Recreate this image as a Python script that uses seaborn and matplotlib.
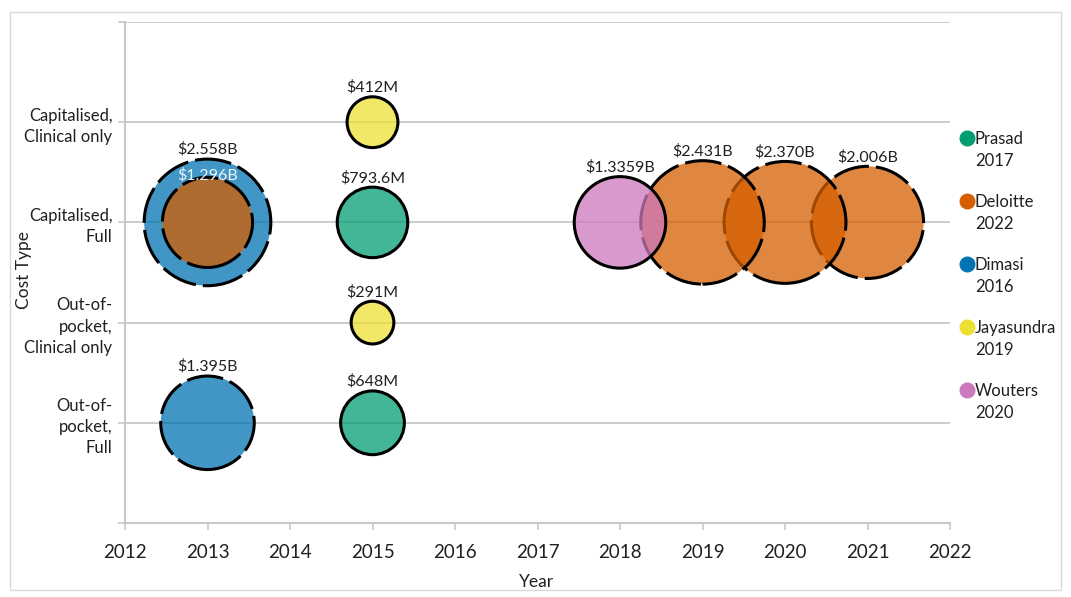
import numpy as np
import pandas as pd
import matplotlib
matplotlib.use("Agg")
import matplotlib.pyplot as plt
from matplotlib.lines import Line2D
from matplotlib.patches import Rectangle
import seaborn as sns

# Data (rows in drawing order, bottom layer first)
study = ["Deloitte 2022", "Deloitte 2022", "Deloitte 2022", "Wouters 2020",
         "Dimasi 2016", "Deloitte 2022", "Dimasi 2016",
         "Prasad 2017", "Prasad 2017", "Jayasundra 2019", "Jayasundra 2019"]
year = [2021, 2020, 2019, 2018, 2013, 2013, 2013, 2015, 2015, 2015, 2015]
cost_type = [3, 3, 3, 3, 3, 3, 1, 3, 1, 4, 2]
cost_bn = [2.006, 2.370, 2.431, 1.3359, 2.558, 1.296, 1.395, 0.7936, 0.648, 0.412, 0.291]
cost_label = ["$2.006B", "$2.370B", "$2.431B", "$1.3359B", "$2.558B", "$1.296B",
              "$1.395B", "$793.6M", "$648M", "$412M", "$291M"]

cost_type_ticks = [0, 1, 2, 3, 4, 5]
cost_type_names = ["", "Out-of-\npocket,\nFull", "Out-of-\npocket,\nClinical only",
                   "Capitalised,\nFull", "Capitalised,\nClinical only", ""]

legend_order = ["Prasad 2017", "Deloitte 2022", "Dimasi 2016", "Jayasundra 2019", "Wouters 2020"]
cb = sns.color_palette("colorblind")
colors = {"Prasad 2017": cb[2], "Deloitte 2022": cb[3], "Dimasi 2016": cb[0],
          "Jayasundra 2019": cb[8], "Wouters 2020": cb[4]}
dashed = {"Deloitte 2022", "Dimasi 2016"}

df = pd.DataFrame({"study": study, "year": year, "cost_type": cost_type,
                   "cost": cost_bn, "label": cost_label})

sns.set_style("white")
plt.rcParams["font.family"] = ["Lato", "DejaVu Sans"]
text_c = "#202020"
grid_c = "#c8c8c8"

fig = plt.figure(figsize=(10.71, 5.97), dpi=100)
ax = fig.add_axes([125 / 1071, 1 - 523 / 597, 825 / 1071, 501 / 597])

s_per_bn = 3250
smax = s_per_bn * df["cost"].max()
sns.scatterplot(data=df, x="year", y="cost_type", hue="study", palette=colors,
                size="cost", sizes=(0, smax), size_norm=(0, df["cost"].max()),
                edgecolor="black", linewidth=2.2, legend=False, ax=ax, zorder=3)

coll = ax.collections[0]
fc = coll.get_facecolors()
fc[:, 3] = 0.75
coll.set_facecolors(fc)
coll.set_edgecolors("black")
coll.set_linestyles([(0, (12, 2.3)) if s in dashed else "solid" for s in df["study"]])

# data labels above bubbles
for _, r in df.iterrows():
    rad = np.sqrt(s_per_bn * r["cost"]) / 2
    inner = r["study"] == "Deloitte 2022" and r["year"] == 2013
    ax.annotate(r["label"], (r["year"], r["cost_type"]),
                xytext=(0, rad - 3.5 if inner else rad + 1.5),
                textcoords="offset points", ha="center", va="bottom",
                fontsize=11.5, color="#eef4fa" if inner else text_c, zorder=4)

ax.set_xlim(2012, 2022)
ax.set_ylim(0, 5)
ax.set_xticks(range(2012, 2023))
ax.set_yticks(cost_type_ticks)
ax.set_yticklabels(cost_type_names, fontsize=12, linespacing=1.42)
ax.tick_params(axis="x", labelsize=13.5, colors=text_c, length=5, width=1.2,
               color=grid_c, direction="out", pad=10, bottom=True)
ax.tick_params(axis="y", colors=text_c, length=5, width=1.2, color=grid_c,
               direction="out", pad=4, left=True)
ax.grid(axis="y", color=grid_c, linewidth=1.3, zorder=0)
ax.grid(axis="x", visible=False)
for side in ["top", "right"]:
    ax.spines[side].set_visible(False)
for side in ["left", "bottom"]:
    ax.spines[side].set_color(grid_c)
    ax.spines[side].set_linewidth(1.5)
ax.set_axisbelow(True)

ax.set_xlabel("Year", fontsize=12.5, color=text_c)
ax.set_ylabel("Cost Type", fontsize=12.5, color=text_c)
ax.xaxis.set_label_coords(0.499, -0.102)
ax.yaxis.set_label_coords(-0.113, 0.505)

# legend at right
for i, name in enumerate(legend_order):
    yc = 138 + i * 63
    fig.add_artist(Line2D([967 / 1071], [1 - yc / 597], marker="o", markersize=10.5,
                          color=colors[name], linestyle="none",
                          transform=fig.transFigure))
    fig.text(975 / 1071, 1 - (yc - 7) / 597, name.replace(" ", "\n"), va="top",
             ha="left", fontsize=12, color=text_c, linespacing=1.45)

# outer frame
fig.add_artist(Rectangle((10 / 1071, 1 - 590 / 597), 1051 / 1071, 578 / 597,
                         transform=fig.transFigure, fill=False,
                         edgecolor="#d9d9d9", linewidth=1))

fig.savefig("out.png", dpi=100)
